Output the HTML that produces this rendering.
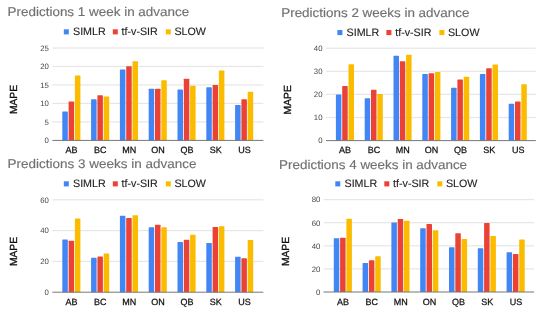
<!DOCTYPE html>
<html><head><meta charset="utf-8"><title>MAPE predictions</title>
<style>html,body{margin:0;padding:0;background:#fff}svg{display:block}</style></head>
<body>
<svg width="550" height="313" viewBox="0 0 550 313" font-family="'Liberation Sans', Arial, sans-serif" text-rendering="geometricPrecision">
<defs><filter id="soft" x="0" y="0" width="550" height="313" filterUnits="userSpaceOnUse"><feGaussianBlur stdDeviation="0.4"/></filter></defs>
<rect width="550" height="313" fill="#fff"/>
<g filter="url(#soft)">
<g transform="translate(0,0)">
<text x="7.6" y="16.4" font-size="12.6" fill="#707070" stroke="#707070" stroke-width="0.15" textLength="181.6" lengthAdjust="spacingAndGlyphs">Predictions 1 week in advance</text>
<rect x="63.800000000000004" y="29.3" width="5" height="5.1" fill="#4285f4"/>
<text x="73.0" y="35.2" font-size="10.7" fill="#222" stroke="#222" stroke-width="0.12">SIMLR</text>
<rect x="112.8" y="29.3" width="5" height="5.1" fill="#ea4335"/>
<text x="121.6" y="35.2" font-size="10.7" fill="#222" stroke="#222" stroke-width="0.12">tf-v-SIR</text>
<rect x="165.79999999999998" y="29.3" width="5" height="5.1" fill="#fbbc04"/>
<text x="174.4" y="35.2" font-size="10.7" fill="#222" stroke="#222" stroke-width="0.12">SLOW</text>
<text x="48.9" y="143.20" font-size="7.8" fill="#4a4a4a" text-anchor="end">0</text>
<rect x="52.4" y="121.32" width="211.00" height="1.2" fill="#e6e6e6"/>
<text x="48.9" y="124.72" font-size="7.8" fill="#4a4a4a" text-anchor="end">5</text>
<rect x="52.4" y="102.84" width="211.00" height="1.2" fill="#e6e6e6"/>
<text x="48.9" y="106.24" font-size="7.8" fill="#4a4a4a" text-anchor="end">10</text>
<rect x="52.4" y="84.36" width="211.00" height="1.2" fill="#e6e6e6"/>
<text x="48.9" y="87.76" font-size="7.8" fill="#4a4a4a" text-anchor="end">15</text>
<rect x="52.4" y="65.88" width="211.00" height="1.2" fill="#e6e6e6"/>
<text x="48.9" y="69.28" font-size="7.8" fill="#4a4a4a" text-anchor="end">20</text>
<rect x="52.4" y="47.40" width="211.00" height="1.2" fill="#e6e6e6"/>
<text x="48.9" y="50.80" font-size="7.8" fill="#4a4a4a" text-anchor="end">25</text>
<path d="M62.30,140.40V112.17Q62.30,111.57 62.90,111.57H67.20Q67.80,111.57 67.80,112.17V140.40Z" fill="#4285f4"/>
<path d="M68.60,140.40V102.19Q68.60,101.59 69.20,101.59H73.50Q74.10,101.59 74.10,102.19V140.40Z" fill="#ea4335"/>
<path d="M74.90,140.40V76.14Q74.90,75.54 75.50,75.54H79.80Q80.40,75.54 80.40,76.14V140.40Z" fill="#fbbc04"/>
<text x="71.45" y="153.30" font-size="9" fill="#111" stroke="#111" stroke-width="0.25" text-anchor="middle">AB</text>
<path d="M91.10,140.40V99.97Q91.10,99.37 91.70,99.37H96.00Q96.60,99.37 96.60,99.97V140.40Z" fill="#4285f4"/>
<path d="M97.40,140.40V95.91Q97.40,95.31 98.00,95.31H102.30Q102.90,95.31 102.90,95.91V140.40Z" fill="#ea4335"/>
<path d="M103.70,140.40V97.20Q103.70,96.60 104.30,96.60H108.60Q109.20,96.60 109.20,97.20V140.40Z" fill="#fbbc04"/>
<text x="100.31" y="153.30" font-size="9" fill="#111" stroke="#111" stroke-width="0.25" text-anchor="middle">BC</text>
<path d="M119.90,140.40V70.04Q119.90,69.44 120.50,69.44H124.80Q125.40,69.44 125.40,70.04V140.40Z" fill="#4285f4"/>
<path d="M126.20,140.40V66.90Q126.20,66.30 126.80,66.30H131.10Q131.70,66.30 131.70,66.90V140.40Z" fill="#ea4335"/>
<path d="M132.50,140.40V61.91Q132.50,61.31 133.10,61.31H137.40Q138.00,61.31 138.00,61.91V140.40Z" fill="#fbbc04"/>
<text x="129.17" y="153.30" font-size="9" fill="#111" stroke="#111" stroke-width="0.25" text-anchor="middle">MN</text>
<path d="M148.70,140.40V89.37Q148.70,88.77 149.30,88.77H153.60Q154.20,88.77 154.20,89.37V140.40Z" fill="#4285f4"/>
<path d="M155.00,140.40V89.37Q155.00,88.77 155.60,88.77H159.90Q160.50,88.77 160.50,89.37V140.40Z" fill="#ea4335"/>
<path d="M161.30,140.40V80.76Q161.30,80.16 161.90,80.16H166.20Q166.80,80.16 166.80,80.76V140.40Z" fill="#fbbc04"/>
<text x="158.03" y="153.30" font-size="9" fill="#111" stroke="#111" stroke-width="0.25" text-anchor="middle">ON</text>
<path d="M177.50,140.40V90.18Q177.50,89.58 178.10,89.58H182.40Q183.00,89.58 183.00,90.18V140.40Z" fill="#4285f4"/>
<path d="M183.80,140.40V79.28Q183.80,78.68 184.40,78.68H188.70Q189.30,78.68 189.30,79.28V140.40Z" fill="#ea4335"/>
<path d="M190.10,140.40V86.30Q190.10,85.70 190.70,85.70H195.00Q195.60,85.70 195.60,86.30V140.40Z" fill="#fbbc04"/>
<text x="186.89" y="153.30" font-size="9" fill="#111" stroke="#111" stroke-width="0.25" text-anchor="middle">QB</text>
<path d="M206.30,140.40V87.96Q206.30,87.36 206.90,87.36H211.20Q211.80,87.36 211.80,87.96V140.40Z" fill="#4285f4"/>
<path d="M212.60,140.40V85.56Q212.60,84.96 213.20,84.96H217.50Q218.10,84.96 218.10,85.56V140.40Z" fill="#ea4335"/>
<path d="M218.90,140.40V71.15Q218.90,70.55 219.50,70.55H223.80Q224.40,70.55 224.40,71.15V140.40Z" fill="#fbbc04"/>
<text x="215.75" y="153.30" font-size="9" fill="#111" stroke="#111" stroke-width="0.25" text-anchor="middle">SK</text>
<path d="M235.10,140.40V105.52Q235.10,104.92 235.70,104.92H240.00Q240.60,104.92 240.60,105.52V140.40Z" fill="#4285f4"/>
<path d="M241.40,140.40V99.97Q241.40,99.37 242.00,99.37H246.30Q246.90,99.37 246.90,99.97V140.40Z" fill="#ea4335"/>
<path d="M247.70,140.40V92.40Q247.70,91.80 248.30,91.80H252.60Q253.20,91.80 253.20,92.40V140.40Z" fill="#fbbc04"/>
<text x="244.61" y="153.30" font-size="9" fill="#111" stroke="#111" stroke-width="0.25" text-anchor="middle">US</text>
<rect x="52.4" y="139.9" width="211.00" height="1" fill="#777"/>
<text transform="translate(17,99.5) rotate(-90)" font-size="10.3" fill="#111" stroke="#111" stroke-width="0.32" text-anchor="middle">MAPE</text>
</g>
<g transform="translate(273.6,0.3)">
<text x="7.6" y="16.599999999999998" font-size="12.6" fill="#707070" stroke="#707070" stroke-width="0.15" textLength="188.2" lengthAdjust="spacingAndGlyphs">Predictions 2 weeks in advance</text>
<rect x="63.800000000000004" y="29.7" width="5" height="5.1" fill="#4285f4"/>
<text x="73.0" y="35.6" font-size="10.7" fill="#222" stroke="#222" stroke-width="0.12">SIMLR</text>
<rect x="112.8" y="29.7" width="5" height="5.1" fill="#ea4335"/>
<text x="121.6" y="35.6" font-size="10.7" fill="#222" stroke="#222" stroke-width="0.12">tf-v-SIR</text>
<rect x="165.79999999999998" y="29.7" width="5" height="5.1" fill="#fbbc04"/>
<text x="174.4" y="35.6" font-size="10.7" fill="#222" stroke="#222" stroke-width="0.12">SLOW</text>
<text x="48.9" y="143.10" font-size="7.8" fill="#4a4a4a" text-anchor="end">0</text>
<rect x="52.4" y="116.60" width="209.80" height="1.2" fill="#e6e6e6"/>
<text x="48.9" y="120.00" font-size="7.8" fill="#4a4a4a" text-anchor="end">10</text>
<rect x="52.4" y="93.50" width="209.80" height="1.2" fill="#e6e6e6"/>
<text x="48.9" y="96.90" font-size="7.8" fill="#4a4a4a" text-anchor="end">20</text>
<rect x="52.4" y="70.40" width="209.80" height="1.2" fill="#e6e6e6"/>
<text x="48.9" y="73.80" font-size="7.8" fill="#4a4a4a" text-anchor="end">30</text>
<rect x="52.4" y="47.30" width="209.80" height="1.2" fill="#e6e6e6"/>
<text x="48.9" y="50.70" font-size="7.8" fill="#4a4a4a" text-anchor="end">40</text>
<path d="M62.30,140.30V94.70Q62.30,94.10 62.90,94.10H67.20Q67.80,94.10 67.80,94.70V140.30Z" fill="#4285f4"/>
<path d="M68.60,140.30V86.38Q68.60,85.78 69.20,85.78H73.50Q74.10,85.78 74.10,86.38V140.30Z" fill="#ea4335"/>
<path d="M74.90,140.30V64.67Q74.90,64.07 75.50,64.07H79.80Q80.40,64.07 80.40,64.67V140.30Z" fill="#fbbc04"/>
<text x="71.45" y="153.20" font-size="9" fill="#111" stroke="#111" stroke-width="0.25" text-anchor="middle">AB</text>
<path d="M91.10,140.30V98.63Q91.10,98.03 91.70,98.03H96.00Q96.60,98.03 96.60,98.63V140.30Z" fill="#4285f4"/>
<path d="M97.40,140.30V90.08Q97.40,89.48 98.00,89.48H102.30Q102.90,89.48 102.90,90.08V140.30Z" fill="#ea4335"/>
<path d="M103.70,140.30V94.24Q103.70,93.64 104.30,93.64H108.60Q109.20,93.64 109.20,94.24V140.30Z" fill="#fbbc04"/>
<text x="100.31" y="153.20" font-size="9" fill="#111" stroke="#111" stroke-width="0.25" text-anchor="middle">BC</text>
<path d="M119.90,140.30V56.12Q119.90,55.52 120.50,55.52H124.80Q125.40,55.52 125.40,56.12V140.30Z" fill="#4285f4"/>
<path d="M126.20,140.30V61.44Q126.20,60.84 126.80,60.84H131.10Q131.70,60.84 131.70,61.44V140.30Z" fill="#ea4335"/>
<path d="M132.50,140.30V54.97Q132.50,54.37 133.10,54.37H137.40Q138.00,54.37 138.00,54.97V140.30Z" fill="#fbbc04"/>
<text x="129.17" y="153.20" font-size="9" fill="#111" stroke="#111" stroke-width="0.25" text-anchor="middle">MN</text>
<path d="M148.70,140.30V74.37Q148.70,73.77 149.30,73.77H153.60Q154.20,73.77 154.20,74.37V140.30Z" fill="#4285f4"/>
<path d="M155.00,140.30V73.45Q155.00,72.85 155.60,72.85H159.90Q160.50,72.85 160.50,73.45V140.30Z" fill="#ea4335"/>
<path d="M161.30,140.30V72.41Q161.30,71.81 161.90,71.81H166.20Q166.80,71.81 166.80,72.41V140.30Z" fill="#fbbc04"/>
<text x="158.03" y="153.20" font-size="9" fill="#111" stroke="#111" stroke-width="0.25" text-anchor="middle">ON</text>
<path d="M177.50,140.30V88.00Q177.50,87.40 178.10,87.40H182.40Q183.00,87.40 183.00,88.00V140.30Z" fill="#4285f4"/>
<path d="M183.80,140.30V79.92Q183.80,79.32 184.40,79.32H188.70Q189.30,79.32 189.30,79.92V140.30Z" fill="#ea4335"/>
<path d="M190.10,140.30V77.03Q190.10,76.43 190.70,76.43H195.00Q195.60,76.43 195.60,77.03V140.30Z" fill="#fbbc04"/>
<text x="186.89" y="153.20" font-size="9" fill="#111" stroke="#111" stroke-width="0.25" text-anchor="middle">QB</text>
<path d="M206.30,140.30V74.37Q206.30,73.77 206.90,73.77H211.20Q211.80,73.77 211.80,74.37V140.30Z" fill="#4285f4"/>
<path d="M212.60,140.30V68.60Q212.60,68.00 213.20,68.00H217.50Q218.10,68.00 218.10,68.60V140.30Z" fill="#ea4335"/>
<path d="M218.90,140.30V64.90Q218.90,64.30 219.50,64.30H223.80Q224.40,64.30 224.40,64.90V140.30Z" fill="#fbbc04"/>
<text x="215.75" y="153.20" font-size="9" fill="#111" stroke="#111" stroke-width="0.25" text-anchor="middle">SK</text>
<path d="M235.10,140.30V104.17Q235.10,103.57 235.70,103.57H240.00Q240.60,103.57 240.60,104.17V140.30Z" fill="#4285f4"/>
<path d="M241.40,140.30V101.86Q241.40,101.26 242.00,101.26H246.30Q246.90,101.26 246.90,101.86V140.30Z" fill="#ea4335"/>
<path d="M247.70,140.30V84.54Q247.70,83.94 248.30,83.94H252.60Q253.20,83.94 253.20,84.54V140.30Z" fill="#fbbc04"/>
<text x="244.61" y="153.20" font-size="9" fill="#111" stroke="#111" stroke-width="0.25" text-anchor="middle">US</text>
<rect x="52.4" y="139.8" width="209.80" height="1" fill="#777"/>
<text transform="translate(17,99.5) rotate(-90)" font-size="10.3" fill="#111" stroke="#111" stroke-width="0.32" text-anchor="middle">MAPE</text>
</g>
<g transform="translate(0,152)">
<text x="7.6" y="16.4" font-size="12.6" fill="#707070" stroke="#707070" stroke-width="0.15" textLength="188.8" lengthAdjust="spacingAndGlyphs">Predictions 3 weeks in advance</text>
<rect x="63.800000000000004" y="29.3" width="5" height="5.1" fill="#4285f4"/>
<text x="73.0" y="35.2" font-size="10.7" fill="#222" stroke="#222" stroke-width="0.12">SIMLR</text>
<rect x="112.8" y="29.3" width="5" height="5.1" fill="#ea4335"/>
<text x="121.6" y="35.2" font-size="10.7" fill="#222" stroke="#222" stroke-width="0.12">tf-v-SIR</text>
<rect x="165.79999999999998" y="29.3" width="5" height="5.1" fill="#fbbc04"/>
<text x="174.4" y="35.2" font-size="10.7" fill="#222" stroke="#222" stroke-width="0.12">SLOW</text>
<text x="48.9" y="143.00" font-size="7.8" fill="#4a4a4a" text-anchor="end">0</text>
<rect x="52.4" y="108.80" width="211.00" height="1.2" fill="#e6e6e6"/>
<text x="48.9" y="112.20" font-size="7.8" fill="#4a4a4a" text-anchor="end">20</text>
<rect x="52.4" y="78.00" width="211.00" height="1.2" fill="#e6e6e6"/>
<text x="48.9" y="81.40" font-size="7.8" fill="#4a4a4a" text-anchor="end">40</text>
<rect x="52.4" y="47.20" width="211.00" height="1.2" fill="#e6e6e6"/>
<text x="48.9" y="50.60" font-size="7.8" fill="#4a4a4a" text-anchor="end">60</text>
<path d="M62.30,140.20V87.98Q62.30,87.38 62.90,87.38H67.20Q67.80,87.38 67.80,87.98V140.20Z" fill="#4285f4"/>
<path d="M68.60,140.20V89.36Q68.60,88.76 69.20,88.76H73.50Q74.10,88.76 74.10,89.36V140.20Z" fill="#ea4335"/>
<path d="M74.90,140.20V67.03Q74.90,66.43 75.50,66.43H79.80Q80.40,66.43 80.40,67.03V140.20Z" fill="#fbbc04"/>
<text x="71.45" y="153.10" font-size="9" fill="#111" stroke="#111" stroke-width="0.25" text-anchor="middle">AB</text>
<path d="M91.10,140.20V106.46Q91.10,105.86 91.70,105.86H96.00Q96.60,105.86 96.60,106.46V140.20Z" fill="#4285f4"/>
<path d="M97.40,140.20V105.07Q97.40,104.47 98.00,104.47H102.30Q102.90,104.47 102.90,105.07V140.20Z" fill="#ea4335"/>
<path d="M103.70,140.20V101.99Q103.70,101.39 104.30,101.39H108.60Q109.20,101.39 109.20,101.99V140.20Z" fill="#fbbc04"/>
<text x="100.31" y="153.10" font-size="9" fill="#111" stroke="#111" stroke-width="0.25" text-anchor="middle">BC</text>
<path d="M119.90,140.20V64.42Q119.90,63.82 120.50,63.82H124.80Q125.40,63.82 125.40,64.42V140.20Z" fill="#4285f4"/>
<path d="M126.20,140.20V66.57Q126.20,65.97 126.80,65.97H131.10Q131.70,65.97 131.70,66.57V140.20Z" fill="#ea4335"/>
<path d="M132.50,140.20V63.80Q132.50,63.20 133.10,63.20H137.40Q138.00,63.20 138.00,63.80V140.20Z" fill="#fbbc04"/>
<text x="129.17" y="153.10" font-size="9" fill="#111" stroke="#111" stroke-width="0.25" text-anchor="middle">MN</text>
<path d="M148.70,140.20V75.97Q148.70,75.37 149.30,75.37H153.60Q154.20,75.37 154.20,75.97V140.20Z" fill="#4285f4"/>
<path d="M155.00,140.20V73.35Q155.00,72.75 155.60,72.75H159.90Q160.50,72.75 160.50,73.35V140.20Z" fill="#ea4335"/>
<path d="M161.30,140.20V75.97Q161.30,75.37 161.90,75.37H166.20Q166.80,75.37 166.80,75.97V140.20Z" fill="#fbbc04"/>
<text x="158.03" y="153.10" font-size="9" fill="#111" stroke="#111" stroke-width="0.25" text-anchor="middle">ON</text>
<path d="M177.50,140.20V90.60Q177.50,90.00 178.10,90.00H182.40Q183.00,90.00 183.00,90.60V140.20Z" fill="#4285f4"/>
<path d="M183.80,140.20V88.44Q183.80,87.84 184.40,87.84H188.70Q189.30,87.84 189.30,88.44V140.20Z" fill="#ea4335"/>
<path d="M190.10,140.20V83.36Q190.10,82.76 190.70,82.76H195.00Q195.60,82.76 195.60,83.36V140.20Z" fill="#fbbc04"/>
<text x="186.89" y="153.10" font-size="9" fill="#111" stroke="#111" stroke-width="0.25" text-anchor="middle">QB</text>
<path d="M206.30,140.20V91.67Q206.30,91.07 206.90,91.07H211.20Q211.80,91.07 211.80,91.67V140.20Z" fill="#4285f4"/>
<path d="M212.60,140.20V75.66Q212.60,75.06 213.20,75.06H217.50Q218.10,75.06 218.10,75.66V140.20Z" fill="#ea4335"/>
<path d="M218.90,140.20V74.73Q218.90,74.13 219.50,74.13H223.80Q224.40,74.13 224.40,74.73V140.20Z" fill="#fbbc04"/>
<text x="215.75" y="153.10" font-size="9" fill="#111" stroke="#111" stroke-width="0.25" text-anchor="middle">SK</text>
<path d="M235.10,140.20V105.23Q235.10,104.63 235.70,104.63H240.00Q240.60,104.63 240.60,105.23V140.20Z" fill="#4285f4"/>
<path d="M241.40,140.20V106.77Q241.40,106.17 242.00,106.17H246.30Q246.90,106.17 246.90,106.77V140.20Z" fill="#ea4335"/>
<path d="M247.70,140.20V88.59Q247.70,87.99 248.30,87.99H252.60Q253.20,87.99 253.20,88.59V140.20Z" fill="#fbbc04"/>
<text x="244.61" y="153.10" font-size="9" fill="#111" stroke="#111" stroke-width="0.25" text-anchor="middle">US</text>
<rect x="52.4" y="139.7" width="211.00" height="1" fill="#777"/>
<text transform="translate(17,99.5) rotate(-90)" font-size="10.3" fill="#111" stroke="#111" stroke-width="0.32" text-anchor="middle">MAPE</text>
</g>
<g transform="translate(271.5,152)">
<text x="7.6" y="16.7" font-size="12.6" fill="#707070" stroke="#707070" stroke-width="0.15" textLength="188.0" lengthAdjust="spacingAndGlyphs">Predictions 4 weeks in advance</text>
<rect x="63.800000000000004" y="29.3" width="5" height="5.1" fill="#4285f4"/>
<text x="73.0" y="35.2" font-size="10.7" fill="#222" stroke="#222" stroke-width="0.12">SIMLR</text>
<rect x="112.8" y="29.3" width="5" height="5.1" fill="#ea4335"/>
<text x="121.6" y="35.2" font-size="10.7" fill="#222" stroke="#222" stroke-width="0.12">tf-v-SIR</text>
<rect x="165.79999999999998" y="29.3" width="5" height="5.1" fill="#fbbc04"/>
<text x="174.4" y="35.2" font-size="10.7" fill="#222" stroke="#222" stroke-width="0.12">SLOW</text>
<text x="48.9" y="142.80" font-size="7.8" fill="#4a4a4a" text-anchor="end">0</text>
<rect x="52.1" y="116.30" width="210.50" height="1.2" fill="#e6e6e6"/>
<text x="48.9" y="119.70" font-size="7.8" fill="#4a4a4a" text-anchor="end">20</text>
<rect x="52.1" y="93.20" width="210.50" height="1.2" fill="#e6e6e6"/>
<text x="48.9" y="96.60" font-size="7.8" fill="#4a4a4a" text-anchor="end">40</text>
<rect x="52.1" y="70.10" width="210.50" height="1.2" fill="#e6e6e6"/>
<text x="48.9" y="73.50" font-size="7.8" fill="#4a4a4a" text-anchor="end">60</text>
<rect x="52.1" y="47.00" width="210.50" height="1.2" fill="#e6e6e6"/>
<text x="48.9" y="50.40" font-size="7.8" fill="#4a4a4a" text-anchor="end">80</text>
<path d="M62.30,140.00V86.78Q62.30,86.18 62.90,86.18H67.20Q67.80,86.18 67.80,86.78V140.00Z" fill="#4285f4"/>
<path d="M68.60,140.00V86.31Q68.60,85.72 69.20,85.72H73.50Q74.10,85.72 74.10,86.31V140.00Z" fill="#ea4335"/>
<path d="M74.90,140.00V67.37Q74.90,66.77 75.50,66.77H79.80Q80.40,66.77 80.40,67.37V140.00Z" fill="#fbbc04"/>
<text x="71.45" y="152.90" font-size="9" fill="#111" stroke="#111" stroke-width="0.25" text-anchor="middle">AB</text>
<path d="M91.10,140.00V111.72Q91.10,111.12 91.70,111.12H96.00Q96.60,111.12 96.60,111.72V140.00Z" fill="#4285f4"/>
<path d="M97.40,140.00V108.84Q97.40,108.24 98.00,108.24H102.30Q102.90,108.24 102.90,108.84V140.00Z" fill="#ea4335"/>
<path d="M103.70,140.00V104.79Q103.70,104.19 104.30,104.19H108.60Q109.20,104.19 109.20,104.79V140.00Z" fill="#fbbc04"/>
<text x="100.31" y="152.90" font-size="9" fill="#111" stroke="#111" stroke-width="0.25" text-anchor="middle">BC</text>
<path d="M119.90,140.00V71.18Q119.90,70.58 120.50,70.58H124.80Q125.40,70.58 125.40,71.18V140.00Z" fill="#4285f4"/>
<path d="M126.20,140.00V67.60Q126.20,67.00 126.80,67.00H131.10Q131.70,67.00 131.70,67.60V140.00Z" fill="#ea4335"/>
<path d="M132.50,140.00V69.34Q132.50,68.74 133.10,68.74H137.40Q138.00,68.74 138.00,69.34V140.00Z" fill="#fbbc04"/>
<text x="129.17" y="152.90" font-size="9" fill="#111" stroke="#111" stroke-width="0.25" text-anchor="middle">MN</text>
<path d="M148.70,140.00V76.96Q148.70,76.36 149.30,76.36H153.60Q154.20,76.36 154.20,76.96V140.00Z" fill="#4285f4"/>
<path d="M155.00,140.00V72.57Q155.00,71.97 155.60,71.97H159.90Q160.50,71.97 160.50,72.57V140.00Z" fill="#ea4335"/>
<path d="M161.30,140.00V78.81Q161.30,78.21 161.90,78.21H166.20Q166.80,78.21 166.80,78.81V140.00Z" fill="#fbbc04"/>
<text x="158.03" y="152.90" font-size="9" fill="#111" stroke="#111" stroke-width="0.25" text-anchor="middle">ON</text>
<path d="M177.50,140.00V95.90Q177.50,95.30 178.10,95.30H182.40Q183.00,95.30 183.00,95.90V140.00Z" fill="#4285f4"/>
<path d="M183.80,140.00V81.81Q183.80,81.21 184.40,81.21H188.70Q189.30,81.21 189.30,81.81V140.00Z" fill="#ea4335"/>
<path d="M190.10,140.00V87.70Q190.10,87.10 190.70,87.10H195.00Q195.60,87.10 195.60,87.70V140.00Z" fill="#fbbc04"/>
<text x="186.89" y="152.90" font-size="9" fill="#111" stroke="#111" stroke-width="0.25" text-anchor="middle">QB</text>
<path d="M206.30,140.00V96.94Q206.30,96.34 206.90,96.34H211.20Q211.80,96.34 211.80,96.94V140.00Z" fill="#4285f4"/>
<path d="M212.60,140.00V71.53Q212.60,70.93 213.20,70.93H217.50Q218.10,70.93 218.10,71.53V140.00Z" fill="#ea4335"/>
<path d="M218.90,140.00V84.58Q218.90,83.98 219.50,83.98H223.80Q224.40,83.98 224.40,84.58V140.00Z" fill="#fbbc04"/>
<text x="215.75" y="152.90" font-size="9" fill="#111" stroke="#111" stroke-width="0.25" text-anchor="middle">SK</text>
<path d="M235.10,140.00V100.87Q235.10,100.27 235.70,100.27H240.00Q240.60,100.27 240.60,100.87V140.00Z" fill="#4285f4"/>
<path d="M241.40,140.00V102.72Q241.40,102.12 242.00,102.12H246.30Q246.90,102.12 246.90,102.72V140.00Z" fill="#ea4335"/>
<path d="M247.70,140.00V88.16Q247.70,87.56 248.30,87.56H252.60Q253.20,87.56 253.20,88.16V140.00Z" fill="#fbbc04"/>
<text x="244.61" y="152.90" font-size="9" fill="#111" stroke="#111" stroke-width="0.25" text-anchor="middle">US</text>
<rect x="52.1" y="139.5" width="210.50" height="1" fill="#777"/>
<text transform="translate(17,99.5) rotate(-90)" font-size="10.3" fill="#111" stroke="#111" stroke-width="0.32" text-anchor="middle">MAPE</text>
</g>
</g>
</svg>
</body></html>
